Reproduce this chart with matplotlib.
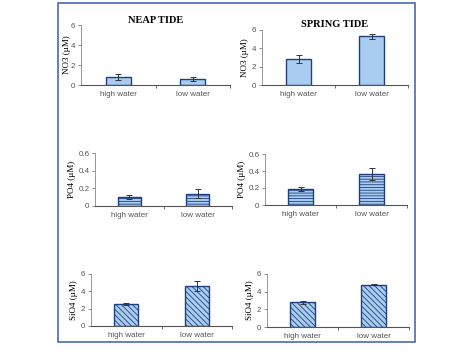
import matplotlib.pyplot as plt
import matplotlib.patches as mpatches

categories = ["high water", "low water"]

no3_neap = [0.8, 0.6]
no3_neap_err = [0.3, 0.2]
no3_spring = [2.8, 5.3]
no3_spring_err = [0.45, 0.3]

po4_neap = [0.10, 0.14]
po4_neap_err = [0.02, 0.05]
po4_spring = [0.19, 0.36]
po4_spring_err = [0.02, 0.07]

sio4_neap = [2.5, 4.6]
sio4_neap_err = [0.1, 0.6]
sio4_spring = [2.8, 4.8]
sio4_spring_err = [0.2, 0.1]

W, H = 474, 353
fig = plt.figure(figsize=(W / 100, H / 100), dpi=100)
plt.rcParams['hatch.color'] = '#1f3f7f'
plt.rcParams['hatch.linewidth'] = 0.6

fill = '#a9cdf0'
edge = '#1f3f7f'
tick_col = '#555555'


def px_axes(left, right, top, bottom):
    return fig.add_axes([left / W, 1 - bottom / H, (right - left) / W, (bottom - top) / H])


def panel(box, vals, errs, ymax, ticks, ticklabels, ylabel, hatch, title=None, tpad=0, lpad=2):
    ax = px_axes(*box)
    x = range(len(categories))
    ax.bar(x, vals, width=0.34, color=fill, edgecolor=edge, linewidth=1.0, hatch=hatch,
           yerr=errs, error_kw=dict(ecolor='#333333', elinewidth=0.7, capsize=2, capthick=0.7))
    ax.set_xlim(-0.5, 1.5)
    ax.set_ylim(0, ymax)
    ax.set_yticks(ticks)
    ax.set_yticklabels(ticklabels, fontsize=5.8, color=tick_col, family='Liberation Sans')
    ax.set_xticks(list(x))
    ax.set_xticklabels(categories, fontsize=5.8, color=tick_col, family='Liberation Sans')
    ax.tick_params(axis='x', length=0, pad=4)
    ax.tick_params(axis='y', length=2, width=0.6, color='#777777', pad=2)
    ax.set_xticks([0.5, 1.5], minor=True)
    ax.tick_params(axis='x', which='minor', length=2, width=0.6, color='#555555')
    for s in ['top', 'right']:
        ax.spines[s].set_visible(False)
    ax.spines['left'].set_color('#888888')
    ax.spines['left'].set_linewidth(0.6)
    ax.spines['bottom'].set_color('#555555')
    ax.spines['bottom'].set_linewidth(0.8)
    ax.set_ylabel(ylabel, fontsize=6.5, family='Liberation Serif', labelpad=lpad)
    if title:
        ax.set_title(title, fontsize=7.5, fontweight='bold', family='Liberation Serif', pad=tpad)
    return ax


panel((81, 230, 25, 85), no3_neap, no3_neap_err, 6, [0, 2, 4, 6], ['0', '2', '4', '6'],
      'NO3 (µM)', None, 'NEAP TIDE', tpad=-0.5, lpad=0)
panel((262, 408, 30, 85), no3_spring, no3_spring_err, 6, [0, 2, 4, 6], ['0', '2', '4', '6'],
      'NO3 (µM)', None, 'SPRING TIDE', tpad=2.5)
panel((95, 232, 153, 206), po4_neap, po4_neap_err, 0.6, [0, 0.2, 0.4, 0.6], ['0', '0.2', '0.4', '0.6'],
      'PO4 (µM)', '------')
panel((265, 407, 154, 205), po4_spring, po4_spring_err, 0.6, [0, 0.2, 0.4, 0.6], ['0', '0.2', '0.4', '0.6'],
      'PO4 (µM)', '------')
panel((91, 232, 274, 326), sio4_neap, sio4_neap_err, 6, [0, 2, 4, 6], ['0', '2', '4', '6'],
      'SiO4 (µM)', '\\\\\\\\\\\\')
panel((267, 409, 274, 327), sio4_spring, sio4_spring_err, 6, [0, 2, 4, 6], ['0', '2', '4', '6'],
      'SiO4 (µM)', '\\\\\\\\\\\\')

# outer blue frame
fig.patches.append(mpatches.Rectangle((58 / W, 1 - 342 / H), (415 - 58) / W, (342 - 3) / H,
                                      transform=fig.transFigure, fill=False,
                                      edgecolor='#4a6ab4', linewidth=1.2))

fig.savefig('out.png', dpi=100)
